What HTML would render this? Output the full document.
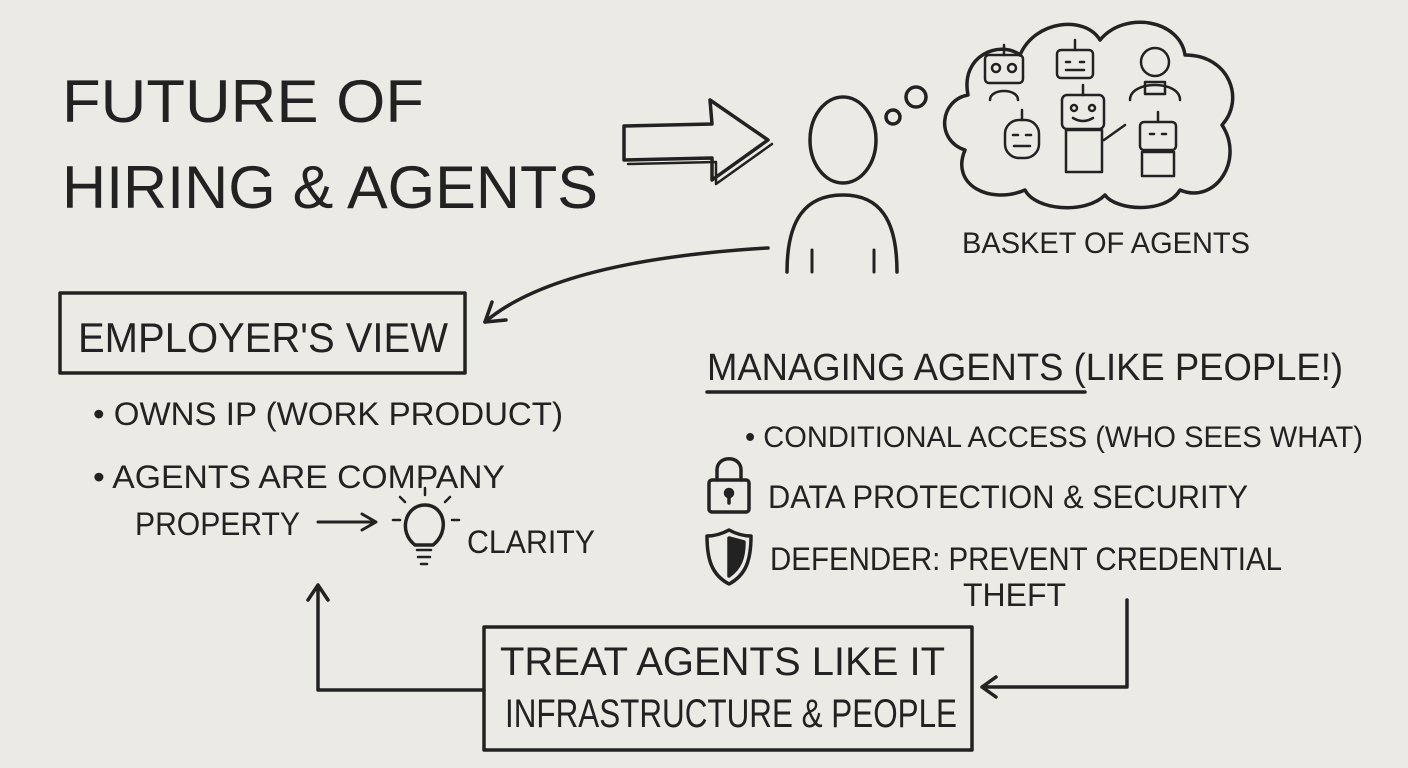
<!DOCTYPE html>
<html><head><meta charset="utf-8"><style>
html,body{margin:0;padding:0;background:#ebeae5;}
svg{display:block}
text{font-family:"Liberation Sans",sans-serif;fill:#222;}
</style></head><body>
<svg width="1408" height="768" viewBox="0 0 1408 768" xmlns="http://www.w3.org/2000/svg">
<rect width="1408" height="768" fill="#ebeae5"/>
<g fill="none" stroke="#222" stroke-width="3.5" stroke-linecap="round" stroke-linejoin="round">
<!-- block arrow -->
<path d="M624 126 L712 124 L710 100 L768 140 L712 180 L712 158 L624 160 Z"/>
<path d="M628 164 L716 162 L716 184 L772 144" stroke-width="2.5"/>
<!-- person -->
<ellipse cx="843" cy="140" rx="33" ry="43"/>
<path d="M787 272 C787 220 805 195 843 195 C880 195 897 220 897 272"/>
<path d="M812 250 L812 272 M874 250 L874 272" stroke-width="3"/>
<!-- thought bubbles -->
<circle cx="893" cy="117" r="7"/>
<circle cx="916" cy="97" r="10"/>
<path d="M965 150 C935 140 940 100 968 95 C960 55 1000 40 1020 55 C1035 20 1085 15 1100 40 C1125 10 1180 20 1185 55 C1230 55 1245 100 1222 125 C1245 160 1215 205 1180 190 C1165 215 1115 210 1105 195 C1085 215 1035 210 1025 190 C990 205 950 185 965 150 Z"/>
<!-- robots -->
<g stroke-width="2.5">
<rect x="985" y="55" width="38" height="28" rx="4"/><circle cx="996" cy="68" r="4"/><circle cx="1012" cy="68" r="4"/><path d="M1004 55 V45 M990 100 C990 88 1018 88 1018 100"/>
<rect x="1057" y="50" width="36" height="28" rx="4"/><path d="M1066 62 h4 M1080 62 h4 M1066 70 h18 M1075 50 V40"/>
<circle cx="1155" cy="62" r="14"/><path d="M1130 100 C1130 80 1180 80 1180 100 M1145 82 h20 v12 h-20z"/>
<rect x="1005" y="120" width="34" height="38" rx="14"/><path d="M1013 135 h5 M1026 135 h5 M1014 146 h16 M1022 120 V110"/>
<rect x="1062" y="95" width="42" height="34" rx="5"/><circle cx="1074" cy="108" r="3"/><circle cx="1092" cy="108" r="3"/><path d="M1073 118 Q1083 124 1093 118 M1083 95 V85 M1066 130 h36 v42 h-36z M1104 140 L1125 125"/>
<rect x="1140" y="122" width="36" height="28" rx="4"/><path d="M1150 134 h4 M1162 134 h4 M1158 122 V112 M1142 152 h32 v24 h-32z"/>
</g>
<!-- curved arrow -->
<path d="M768 248 C650 255 540 275 485 322"/>
<path d="M485 322 L492 302 M485 322 L506 320"/>
<!-- employer box -->
<rect x="60" y="293" width="405" height="80"/>
<!-- small arrow property->clarity -->
<path d="M318 522 L375 522 M362 514 L376 522 L362 530" stroke-width="3"/>
<!-- bulb -->
<path d="M415 545 C398 532 405 505 425 505 C445 505 450 532 433 545 Z"/>
<path d="M417 550 h14 M418 557 h12 M421 564 h6" stroke-width="2.5"/>
<path d="M400 520 h-7 M452 520 h7 M405 502 l-5 -5 M445 502 l5 -5 M425 495 v-7" stroke-width="2.5"/>
<!-- underline managing -->
<path d="M707 392 L1085 392"/>
<!-- lock -->
<rect x="709" y="480" width="40" height="32" rx="3"/>
<path d="M717 480 V470 C717 455 741 455 741 470 V480"/>
<circle cx="729" cy="493" r="3.5" fill="#222"/><path d="M729 496 V503"/>
<!-- shield -->
<path d="M729 530 C718 536 710 536 707 536 C707 560 712 575 729 584 C746 575 751 560 751 536 C748 536 740 536 729 530 Z"/>
<path d="M729 538 V576 C740 568 744 558 744 542 Z" fill="#222"/>
<!-- treat box -->
<rect x="484" y="627" width="488" height="123"/>
<!-- left loop -->
<path d="M484 690 L318 690 L318 585 M308 600 L318 585 L328 600"/>
<!-- right loop -->
<path d="M1127 600 L1127 687 L982 687 M996 677 L982 687 L996 697"/>
</g>
<!-- text -->
<text x="62" y="122" font-size="60" textLength="362" lengthAdjust="spacingAndGlyphs">FUTURE OF</text>
<text x="62" y="208" font-size="60" textLength="536" lengthAdjust="spacingAndGlyphs">HIRING &amp; AGENTS</text>
<text x="962" y="253" font-size="30" textLength="288" lengthAdjust="spacingAndGlyphs">BASKET OF AGENTS</text>
<text x="78" y="352" font-size="42" textLength="370" lengthAdjust="spacingAndGlyphs">EMPLOYER'S VIEW</text>
<text x="93" y="425" font-size="32" textLength="470" lengthAdjust="spacingAndGlyphs">• OWNS IP (WORK PRODUCT)</text>
<text x="93" y="488" font-size="32" textLength="412" lengthAdjust="spacingAndGlyphs">• AGENTS ARE COMPANY</text>
<text x="135" y="535" font-size="32" textLength="165" lengthAdjust="spacingAndGlyphs">PROPERTY</text>
<text x="467" y="553" font-size="32" textLength="128" lengthAdjust="spacingAndGlyphs">CLARITY</text>
<text x="707" y="380" font-size="38" textLength="636" lengthAdjust="spacingAndGlyphs">MANAGING AGENTS (LIKE PEOPLE!)</text>
<text x="745" y="447" font-size="30" textLength="618" lengthAdjust="spacingAndGlyphs">• CONDITIONAL ACCESS (WHO SEES WHAT)</text>
<text x="768" y="508" font-size="32" textLength="480" lengthAdjust="spacingAndGlyphs">DATA PROTECTION &amp; SECURITY</text>
<text x="770" y="570" font-size="32" textLength="512" lengthAdjust="spacingAndGlyphs">DEFENDER: PREVENT CREDENTIAL</text>
<text x="963" y="606" font-size="32" textLength="103" lengthAdjust="spacingAndGlyphs">THEFT</text>
<text x="500" y="675" font-size="40" textLength="445" lengthAdjust="spacingAndGlyphs">TREAT AGENTS LIKE IT</text>
<text x="505" y="727" font-size="40" textLength="452" lengthAdjust="spacingAndGlyphs">INFRASTRUCTURE &amp; PEOPLE</text>
</svg>
</body></html>
